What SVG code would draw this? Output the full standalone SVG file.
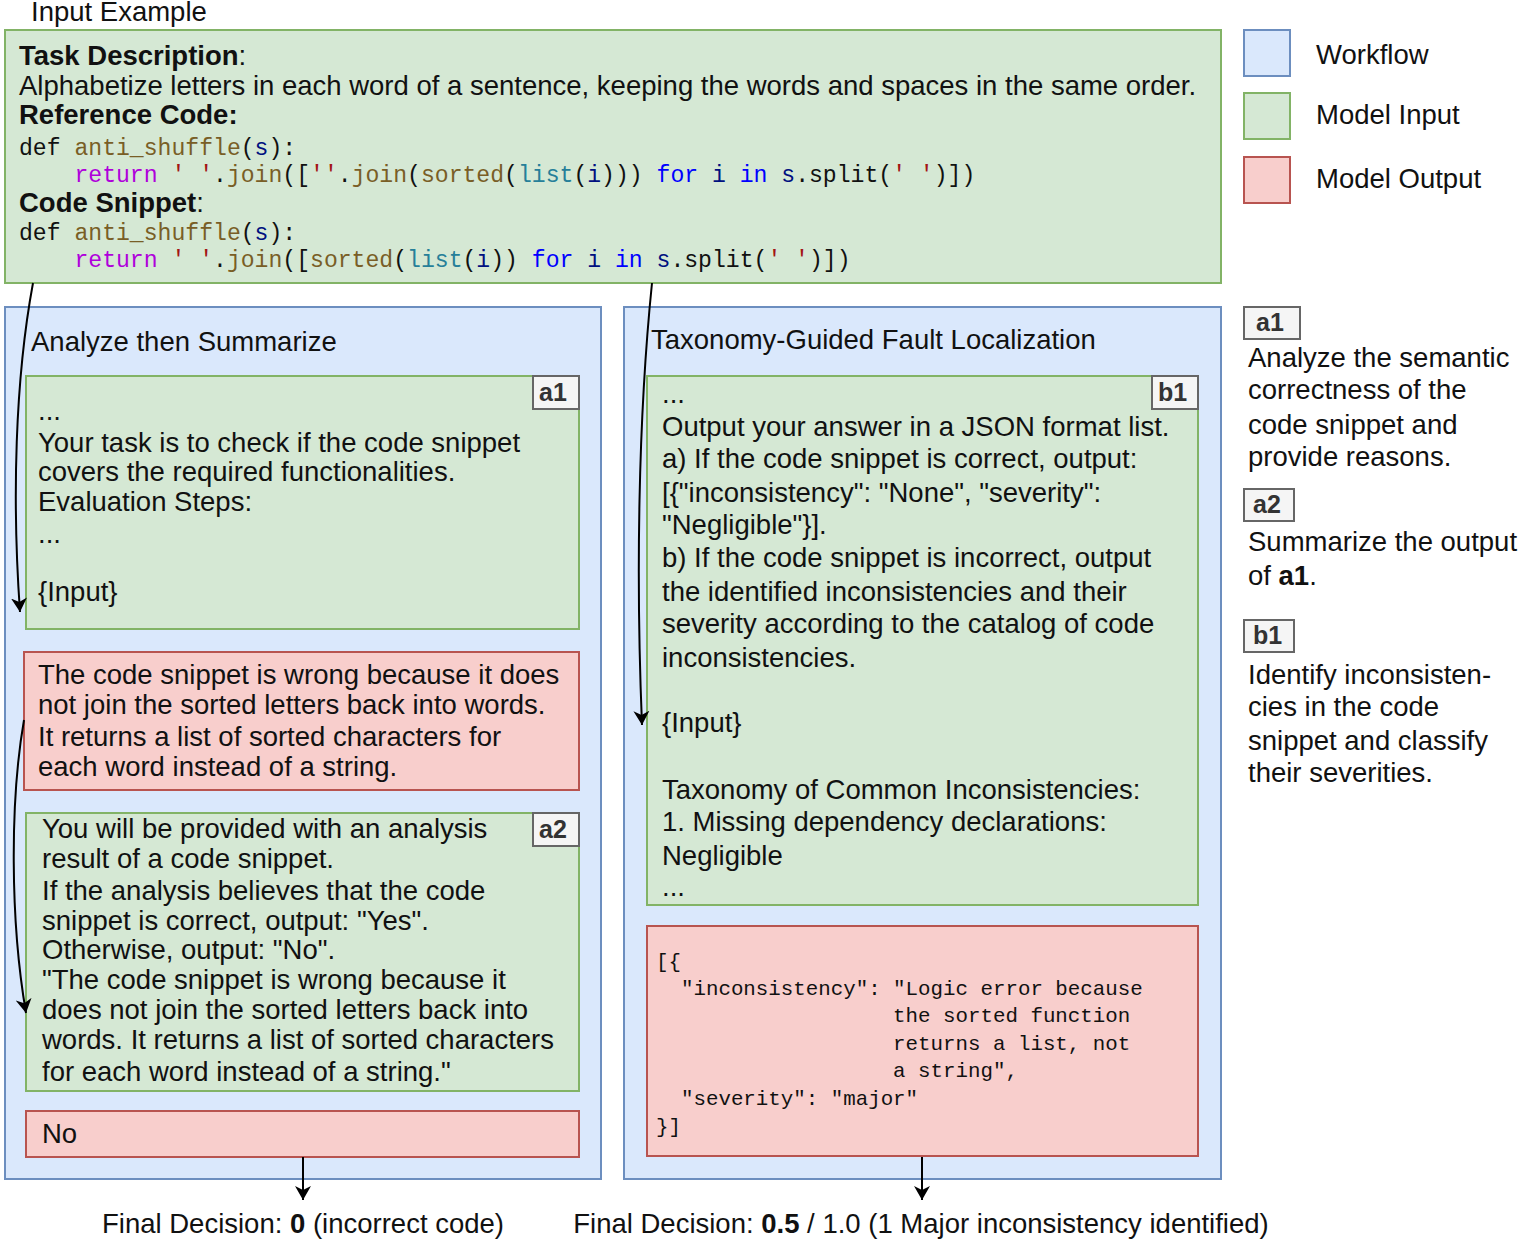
<svg xmlns="http://www.w3.org/2000/svg" width="1519" height="1239" viewBox="0 0 1519 1239">
<style>
text{font-family:"Liberation Sans",Arial,sans-serif;font-size:27.5px;fill:#111}
.c{font-family:"Liberation Mono","DejaVu Sans Mono",monospace;font-size:23.1px}
.j{font-family:"Liberation Mono","DejaVu Sans Mono",monospace;font-size:20.8px}
.g{fill:#d5e8d4;stroke:#82b366;stroke-width:2}
.b{fill:#dae8fc;stroke:#6c8ebf;stroke-width:2}
.r{fill:#f8cecc;stroke:#b85450;stroke-width:2}
.l{fill:#f5f5f5;stroke:#666;stroke-width:2}
.lt{font-weight:bold;font-size:25px;fill:#333}
.f{fill:#795e26}.s{fill:#001080}.k{fill:#af00db}.q{fill:#a31515}.t{fill:#267f99}.w{fill:#0000ff}
.e{fill:none;stroke:#000;stroke-width:2}
</style>
<defs><marker id="ah" markerWidth="14" markerHeight="20" refX="14" refY="10" orient="auto" markerUnits="userSpaceOnUse" viewBox="0 0 14 20"><path d="M0,2 L14,10 L0,18 L4,10 Z" fill="#000"/></marker></defs>
<text x="31" y="21">Input Example</text>
<g id="input">
<rect class="g" x="5" y="30" width="1216" height="253"/>
<text x="19" y="65"><tspan font-weight="bold">Task Description</tspan>:</text>
<text x="19" y="95">Alphabetize letters in each word of a sentence, keeping the words and spaces in the same order.</text>
<text x="19" y="124" font-weight="bold">Reference Code:</text>
<text class="c" x="19" y="155">def <tspan class="f">anti_shuffle</tspan>(<tspan class="s">s</tspan>):</text>
<text class="c" x="19" y="182" xml:space="preserve">    <tspan class="k">return</tspan> <tspan class="q">' '</tspan>.<tspan class="f">join</tspan>([<tspan class="q">''</tspan>.<tspan class="f">join</tspan>(<tspan class="f">sorted</tspan>(<tspan class="t">list</tspan>(<tspan class="s">i</tspan>))) <tspan class="w">for</tspan> <tspan class="s">i</tspan> <tspan class="w">in</tspan> <tspan class="s">s</tspan>.split(<tspan class="q">' '</tspan>)])</text>
<text x="19" y="212"><tspan font-weight="bold">Code Snippet</tspan>:</text>
<text class="c" x="19" y="240">def <tspan class="f">anti_shuffle</tspan>(<tspan class="s">s</tspan>):</text>
<text class="c" x="19" y="267" xml:space="preserve">    <tspan class="k">return</tspan> <tspan class="q">' '</tspan>.<tspan class="f">join</tspan>([<tspan class="f">sorted</tspan>(<tspan class="t">list</tspan>(<tspan class="s">i</tspan>)) <tspan class="w">for</tspan> <tspan class="s">i</tspan> <tspan class="w">in</tspan> <tspan class="s">s</tspan>.split(<tspan class="q">' '</tspan>)])</text>
</g>
<g id="legend">
<rect class="b" x="1244" y="30" width="46" height="46"/><text x="1316" y="64">Workflow</text>
<rect class="g" x="1244" y="93" width="46" height="46"/><text x="1316" y="124">Model Input</text>
<rect class="r" x="1244" y="157" width="46" height="46"/><text x="1316" y="188">Model Output</text>
<rect class="l" x="1244" y="307" width="56" height="32"/><text class="lt" x="1256" y="331">a1</text>
<text x="1248" y="367">Analyze the semantic</text><text x="1248" y="399">correctness of the</text><text x="1248" y="434">code snippet and</text><text x="1248" y="466">provide reasons.</text>
<rect class="l" x="1244" y="489" width="50" height="32"/><text class="lt" x="1253" y="513">a2</text>
<text x="1248" y="551">Summarize the output</text><text x="1248" y="585">of <tspan font-weight="bold">a1</tspan>.</text>
<rect class="l" x="1244" y="620" width="50" height="32"/><text class="lt" x="1253" y="644">b1</text>
<text x="1248" y="684">Identify inconsisten-</text><text x="1248" y="716">cies in the code</text><text x="1248" y="750">snippet and classify</text><text x="1248" y="782">their severities.</text>
</g>
<g id="workflowA">
<rect class="b" x="5" y="307" width="596" height="872"/>
<text x="31" y="351">Analyze then Summarize</text>
</g>
<g id="a1">
<rect class="g" x="26" y="376" width="553" height="253"/>
<rect class="l" x="533" y="376" width="46" height="33"/><text class="lt" x="539" y="401">a1</text>
<text x="38" y="420">...</text><text x="38" y="452">Your task is to check if the code snippet</text><text x="38" y="481">covers the required functionalities.</text><text x="38" y="511">Evaluation Steps:</text><text x="38" y="543">...</text><text x="38" y="601">{Input}</text>
</g>
<g id="out1">
<rect class="r" x="24" y="652" width="555" height="138"/>
<text x="38" y="684">The code snippet is wrong because it does</text><text x="38" y="714">not join the sorted letters back into words.</text><text x="38" y="746">It returns a list of sorted characters for</text><text x="38" y="776">each word instead of a string.</text>
</g>
<g id="a2">
<rect class="g" x="26" y="813" width="553" height="278"/>
<rect class="l" x="533" y="813" width="46" height="33"/><text class="lt" x="539" y="838">a2</text>
<text x="42" y="838">You will be provided with an analysis</text><text x="42" y="868">result of a code snippet.</text><text x="42" y="900">If the analysis believes that the code</text><text x="42" y="930">snippet is correct, output: "Yes".</text><text x="42" y="959">Otherwise, output: "No".</text><text x="42" y="989">"The code snippet is wrong because it</text><text x="42" y="1019">does not join the sorted letters back into</text><text x="42" y="1049">words. It returns a list of sorted characters</text><text x="42" y="1081">for each word instead of a string."</text>
</g>
<g id="out2">
<rect class="r" x="26" y="1111" width="553" height="46"/><text x="42" y="1143">No</text>
</g>
<g id="workflowB">
<rect class="b" x="624" y="307" width="597" height="872"/>
<text x="651" y="349">Taxonomy-Guided Fault Localization</text>
</g>
<g id="b1">
<rect class="g" x="647" y="376" width="551" height="529"/>
<rect class="l" x="1152" y="376" width="46" height="33"/><text class="lt" x="1158" y="401">b1</text>
<text x="662" y="403">...</text><text x="662" y="436">Output your answer in a JSON format list.</text><text x="662" y="468">a) If the code snippet is correct, output:</text><text x="662" y="502">[{"inconsistency": "None", "severity":</text><text x="662" y="534">"Negligible"}].</text><text x="662" y="567">b) If the code snippet is incorrect, output</text><text x="662" y="601">the identified inconsistencies and their</text><text x="662" y="633">severity according to the catalog of code</text><text x="662" y="667">inconsistencies.</text><text x="662" y="732">{Input}</text><text x="662" y="799">Taxonomy of Common Inconsistencies:</text><text x="662" y="831">1. Missing dependency declarations:</text><text x="662" y="865">Negligible</text><text x="662" y="896">...</text>
</g>
<g id="out3">
<rect class="r" x="647" y="926" width="551" height="230"/>
<text class="j" xml:space="preserve"><tspan x="656" y="968">[{</tspan><tspan x="656" y="995">  "inconsistency": "Logic error because</tspan><tspan x="656" y="1022">                   the sorted function</tspan><tspan x="656" y="1050">                   returns a list, not</tspan><tspan x="656" y="1077">                   a string",</tspan><tspan x="656" y="1105">  "severity": "major"</tspan><tspan x="656" y="1133">}]</tspan></text>
</g>
<g id="connectors">
<path class="e" d="M33,283 C15,380 12,500 20,612" marker-end="url(#ah)"/>
<path class="e" d="M652,283 C638,420 636,580 642,725" marker-end="url(#ah)"/>
<path class="e" d="M24,720 C10,800 10,920 26,1013" marker-end="url(#ah)"/>
<path class="e" d="M303,1157 L303,1200" marker-end="url(#ah)"/>
<path class="e" d="M922,1157 L922,1200" marker-end="url(#ah)"/>
</g>
<text x="303" y="1233" text-anchor="middle">Final Decision: <tspan font-weight="bold">0</tspan> (incorrect code)</text>
<text x="921" y="1233" text-anchor="middle">Final Decision: <tspan font-weight="bold">0.5</tspan> / 1.0 (1 Major inconsistency identified)</text>
</svg>
